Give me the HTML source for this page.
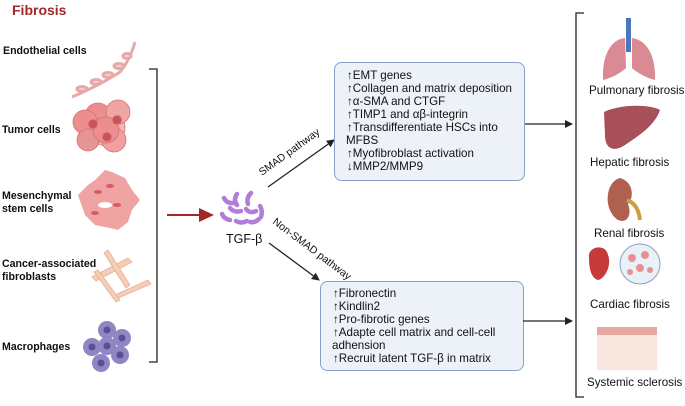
<!DOCTYPE html>
<html><head><meta charset="utf-8"><style>
html,body{margin:0;padding:0;background:#fff;}
svg{display:block;font-family:"Liberation Sans",sans-serif;}
</style></head><body>
<svg width="685" height="406" viewBox="0 0 685 406" xmlns="http://www.w3.org/2000/svg">
<defs>
<marker id="ah" markerWidth="8" markerHeight="8" refX="7" refY="4" orient="auto" markerUnits="userSpaceOnUse"><path d="M0,0 L8,4 L0,8 z" fill="#222"/></marker>
</defs>
<text x="12" y="15" font-size="14" font-weight="bold" fill="#a3262a">Fibrosis</text>
<g font-size="10.6" font-weight="bold" fill="#111">
<text x="3" y="54">Endothelial cells</text>
<text x="2" y="133">Tumor cells</text>
<text x="2" y="199">Mesenchymal</text><text x="2" y="212">stem cells</text>
<text x="2" y="267">Cancer-associated</text><text x="2" y="280">fibroblasts</text>
<text x="2" y="350">Macrophages</text>
</g>
<!-- endothelial -->
<g stroke="#e8a8a8" stroke-width="3" fill="#f6d3d3">
<path d="M72,97 Q100,85 120,72 Q130,60 135,42" fill="none"/>
<ellipse cx="82" cy="89" rx="5" ry="2.5"/><ellipse cx="96" cy="82" rx="5" ry="2.5"/><ellipse cx="108" cy="75" rx="5" ry="2.5"/><ellipse cx="119" cy="66" rx="5" ry="2.5"/><ellipse cx="127" cy="56" rx="4" ry="2.5"/>
</g>
<!-- tumor -->
<g fill="#ec8e8e" stroke="#d87070" stroke-width="0.8">
<circle cx="107" cy="128" r="18" fill="#f3b6b6"/><circle cx="98" cy="116" r="13"/><circle cx="118" cy="112" r="12" fill="#f1a4a4"/><circle cx="85" cy="122" r="12"/><circle cx="114" cy="140" r="12" fill="#f0a0a0"/><circle cx="88" cy="140" r="11" fill="#e79494"/><circle cx="106" cy="130" r="13"/>
<circle cx="93" cy="124" r="4.5" fill="#c9545f"/><circle cx="117" cy="120" r="4.5" fill="#c9545f"/><circle cx="107" cy="137" r="4.5" fill="#c9545f"/>
</g>
<!-- MSC -->
<g fill="#f0a3a3">
<path d="M78,195 L88,185 L95,180 L105,170 L112,172 L125,178 L132,190 L140,200 L132,210 L128,222 L118,230 L110,228 L95,225 L88,218 L85,215 Z"/>
<ellipse cx="98" cy="192" rx="4" ry="2" fill="#d85a64"/><ellipse cx="117" cy="205" rx="4" ry="2" fill="#d85a64"/><ellipse cx="95" cy="213" rx="4" ry="2" fill="#d85a64"/><ellipse cx="110" cy="186" rx="4" ry="2" fill="#d85a64"/>
<ellipse cx="105" cy="205" rx="7" ry="3" fill="#fff"/>
</g>
<!-- CAF -->
<g fill="#f6cdb6" stroke="#e6b096" stroke-width="0.8">
<path d="M92,277 L128,258 L132,262 L96,281 Z"/><path d="M108,250 L130,285 L126,288 L104,253 Z"/><path d="M115,295 L148,280 L151,284 L118,298 Z"/><path d="M98,270 L120,300 L116,302 L94,272 Z"/>
</g>
<!-- macrophages -->
<g fill="#8f86c4"><circle cx="107" cy="330" r="9"/><circle cx="92" cy="347" r="9"/><circle cx="107" cy="346" r="9"/><circle cx="122" cy="338" r="9"/><circle cx="120" cy="355" r="9"/><circle cx="101" cy="363" r="9"/>
<g fill="#5a4f94"><circle cx="107" cy="330" r="3.5"/><circle cx="92" cy="347" r="3.5"/><circle cx="107" cy="346" r="3.5"/><circle cx="122" cy="338" r="3.5"/><circle cx="120" cy="355" r="3.5"/><circle cx="101" cy="363" r="3.5"/></g></g>
<!-- left bracket -->
<path d="M149,69 H157 V362 H149" fill="none" stroke="#222" stroke-width="1.3"/>
<!-- red arrow -->
<line x1="167" y1="215" x2="200" y2="215" stroke="#a3262a" stroke-width="2"/>
<path d="M199,208 L214,215 L199,222 Z" fill="#a3262a"/>
<!-- TGF-b -->
<g fill="none" stroke="#b07ed8" stroke-width="4.5" stroke-linecap="round">
<path d="M224,198 q3,6 10,5"/><path d="M237,194 q-4,6 0,11"/><path d="M251,193 q-5,5 -3,11"/><path d="M230,208 q4,5 11,3"/><path d="M246,209 q4,5 10,2"/><path d="M260,206 q3,5 1,11"/><path d="M236,221 q5,3 11,0"/><path d="M222,214 q2,5 8,6"/><path d="M250,222 q5,1 9,-3"/>
</g>
<text x="226" y="243" font-size="12.5" fill="#111">TGF-β</text>
<!-- pathway arrows -->
<line x1="268" y1="187" x2="334" y2="140" stroke="#222" stroke-width="1.3" marker-end="url(#ah)"/>
<text transform="translate(262,176) rotate(-36)" font-size="10.5" fill="#111">SMAD pathway</text>
<line x1="269" y1="243" x2="319" y2="280" stroke="#222" stroke-width="1.3" marker-end="url(#ah)"/>
<text transform="translate(272,223) rotate(37)" font-size="10.5" fill="#111">Non-SMAD pathway</text>
<!-- boxes -->
<rect x="334.5" y="62.5" width="190" height="118" rx="7" fill="#edf1f8" stroke="#8a9fc7" stroke-width="1"/>
<g font-size="11.6" fill="#111">
<text x="347" y="79">↑EMT genes</text>
<text x="347" y="92">↑Collagen and matrix deposition</text>
<text x="347" y="105">↑α-SMA and CTGF</text>
<text x="347" y="118">↑TIMP1 and αβ-integrin</text>
<text x="347" y="131">↑Transdifferentiate HSCs into</text>
<text x="346" y="144">MFBS</text>
<text x="347" y="157">↑Myofibroblast activation</text>
<text x="347" y="170">↓MMP2/MMP9</text>
</g>
<rect x="320.5" y="281.5" width="203" height="89" rx="7" fill="#edf1f8" stroke="#8a9fc7" stroke-width="1"/>
<g font-size="11.6" fill="#111">
<text x="333" y="297">↑Fibronectin</text>
<text x="333" y="310">↑Kindlin2</text>
<text x="333" y="323">↑Pro-fibrotic genes</text>
<text x="333" y="336">↑Adapte cell matrix and cell-cell</text>
<text x="332" y="349">adhension</text>
<text x="333" y="362">↑Recruit latent TGF-β in matrix</text>
</g>
<line x1="525" y1="124" x2="572" y2="124" stroke="#222" stroke-width="1.3" marker-end="url(#ah)"/>
<line x1="523" y1="321" x2="572" y2="321" stroke="#222" stroke-width="1.3" marker-end="url(#ah)"/>
<!-- right bracket -->
<path d="M584,13 H576 V397 H584" fill="none" stroke="#222" stroke-width="1.3"/>
<!-- lungs -->
<rect x="626" y="18" width="5" height="34" fill="#4a78b8"/>
<path d="M625,38 C608,40 602,60 603,80 C612,78 622,72 626,68 Z" fill="#d98a92"/>
<path d="M632,38 C649,40 656,60 655,80 C646,78 636,72 632,68 Z" fill="#d98a92"/>
<!-- liver -->
<path d="M604,112 C620,104 650,104 660,110 C655,125 640,135 625,145 C615,152 605,150 605,135 Z" fill="#a8505a"/>
<!-- kidney -->
<path d="M620,178 C605,182 603,210 618,220 C628,224 632,214 628,204 C634,198 634,182 620,178 Z" fill="#b0604e"/>
<path d="M627,200 C635,203 639,210 640,220" stroke="#c8a040" stroke-width="4" fill="none"/>
<!-- heart -->
<path d="M589,258 C587,246 606,243 608,255 C612,265 605,279 598,280 C591,278 589,268 589,258 Z" fill="#c63a3a"/>
<circle cx="640" cy="264" r="20" fill="#e8f0f8" stroke="#8aa0c0"/>
<g fill="#e89090"><circle cx="632" cy="258" r="4"/><circle cx="645" cy="255" r="4"/><circle cx="640" cy="268" r="4"/><circle cx="650" cy="270" r="3"/><circle cx="630" cy="272" r="3"/></g>
<!-- skin -->
<rect x="597" y="327" width="60" height="43" fill="#f8e6de"/>
<rect x="597" y="327" width="60" height="8" fill="#e8a8a0"/>
<g font-size="11.6" fill="#111">
<text x="589" y="94">Pulmonary fibrosis</text>
<text x="590" y="166">Hepatic fibrosis</text>
<text x="594" y="237">Renal fibrosis</text>
<text x="590" y="308">Cardiac fibrosis</text>
<text x="587" y="386">Systemic sclerosis</text>
</g>
</svg>
</body></html>
